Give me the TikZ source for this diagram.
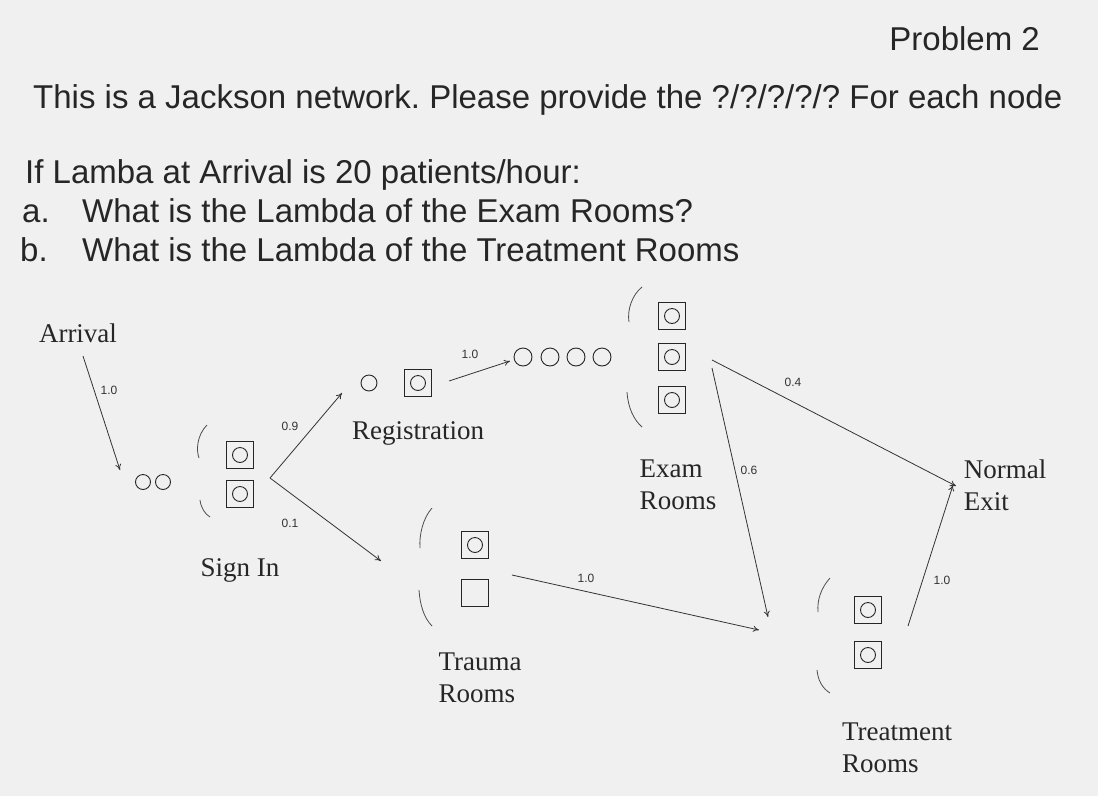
\documentclass[tikz,border=0pt]{standalone}
\usepackage{fontspec}
\setmainfont{Liberation Serif}
\newfontfamily\arialf{Liberation Sans}
\usetikzlibrary{arrows.meta}
\frenchspacing
\begin{document}
\begin{tikzpicture}[x=1pt,y=-1pt,
  ln/.style={draw=black!80,line width=0.8pt},
  arr/.style={ln,-{To[length=6pt,width=6pt]}},
  sq/.style={draw=black!85,line width=1pt,minimum size=27pt,inner sep=0pt},
  cir/.style={draw=black!85,line width=0.9pt,circle,minimum size=16pt,inner sep=0pt},
  big/.style={font=\arialf\fontsize{33}{36}\selectfont,text=black!85,anchor=base west,inner sep=0pt},
  lab/.style={font=\fontsize{27}{32}\selectfont,text=black!85,align=left,inner sep=0pt},
  num/.style={font=\arialf\fontsize{12}{13}\selectfont,text=black!80,inner sep=1pt},
  paren/.style={draw=black!70,line width=0.8pt}]
\fill[black!6] (0,0) rectangle (1098,796);
\useasboundingbox (0,0) rectangle (1098,796);

\node[big,anchor=base east] (p2) at (1040,50) {Problem 2};
\node[big] (t1) at (33,108) {This is a Jackson network. Please provide the ?/?/?/?/? For each node};
\node[big] (t2) at (25,183) {If Lamba at Arrival is 20 patients/hour:};
\node[big] (t3) at (22,222) {a.};
\node[big] (t3b) at (82,222) {What is the Lambda of the Exam Rooms?};
\node[big] (t4) at (20,261) {b.};
\node[big] (t4b) at (82,261) {What is the Lambda of the Treatment Rooms};

% Arrival
\node[lab] (arr) at (78,333) {Arrival};
\coordinate (a0) at (83,356);
\coordinate (a1) at (120,470);
\draw[arr] (a0) -- (a1);
\node[num] (n1) at (109,390) {1.0};
\node[cir,minimum size=15pt] (q1) at (143,482) {};
\node[cir,minimum size=15pt] (q2) at (163,482) {};

% Sign In
\node[sq] (s1) at (240,455) {}; \node[cir,minimum size=15pt] (s1c) at (s1) {};
\node[sq] (s2) at (240,494) {}; \node[cir,minimum size=15pt] (s2c) at (s2) {};
\draw[paren] (207,425) .. controls (197,435) and (196,450) .. (199,458);
\draw[paren] (200,500) .. controls (201,508) and (205,514) .. (210,517);
\node[lab] (signin) at (240,570) {Sign In};
\coordinate (sp) at (270,478);
\coordinate (sp1) at (342,393);
\coordinate (sp2) at (381,561);
\draw[arr] (sp) -- (sp1);
\draw[arr] (sp) -- (sp2);
\node[num] (n09) at (290,426) {0.9};
\node[num] (n01) at (290,523) {0.1};

% Registration
\node[cir,minimum size=16pt] (rq) at (369,383) {};
\node[sq] (r1) at (418,383) {}; \node[cir,minimum size=15pt] (r1c) at (r1) {};
\node[lab] (reg) at (418,433) {Registration};
\coordinate (rr0) at (449,381);
\coordinate (rr1) at (510,361);
\draw[arr] (rr0) -- (rr1);
\node[num] (n10a) at (470,354) {1.0};
\foreach \i/\x in {1/523,2/550,3/576,4/602} \node[cir,minimum size=18pt] (eq\i) at (\x,357) {};

% Exam rooms
\foreach \i/\y in {1/316,2/357,3/400} {\node[sq] (e\i) at (672,\y) {}; \node[cir,minimum size=15pt] at (e\i) {};}
\draw[paren] (642,287) .. controls (632,295) and (627,310) .. (629,322);
\draw[paren] (627,392) .. controls (628,408) and (634,420) .. (642,427);
\node[lab] (exam) at (678,485) {Exam\\Rooms};
\coordinate (ex0) at (712,360);
\coordinate (ex1) at (956,486);
\coordinate (ex2) at (712,368);
\coordinate (ex3) at (768,617);
\draw[arr] (ex0) -- (ex1);
\draw[arr] (ex2) -- (ex3);
\node[num] (n04) at (793,382) {0.4};
\node[num] (n06) at (749,470) {0.6};

% Trauma
\node[sq] (tr1) at (475,545) {}; \node[cir,minimum size=15pt] at (tr1) {};
\node[sq] (tr2) at (475,593) {};
\draw[paren] (432,508) .. controls (423,518) and (419,535) .. (420,548);
\draw[paren] (419,590) .. controls (420,605) and (424,618) .. (432,626);
\node[lab] (trauma) at (480,678) {Trauma\\Rooms};
\coordinate (t0) at (512,575);
\coordinate (t1e) at (759,630);
\draw[arr] (t0) -- (t1e);
\node[num] (n10b) at (586,578) {1.0};

% Treatment
\node[sq] (tt1) at (868,610) {}; \node[cir,minimum size=15pt] at (tt1) {};
\node[sq] (tt2) at (868,655) {}; \node[cir,minimum size=15pt] at (tt2) {};
\draw[paren] (830,578) .. controls (821,588) and (817,600) .. (818,612);
\draw[paren] (817,670) .. controls (818,680) and (822,688) .. (830,693);
\node[lab] (treat) at (897,748) {Treatment\\Rooms};
\coordinate (tt0) at (908,626);
\coordinate (tt3) at (953,485);
\draw[arr] (tt0) -- (tt3);
\node[num] (n10c) at (942,580) {1.0};

\node[lab] (exit) at (1005,485) {Normal\\Exit};
\end{tikzpicture}
\end{document}
